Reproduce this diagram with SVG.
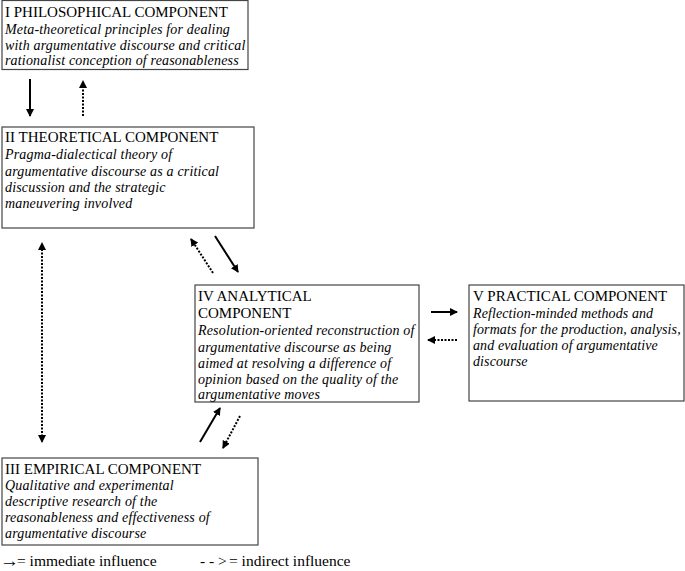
<svg xmlns="http://www.w3.org/2000/svg" width="685" height="571" viewBox="0 0 685 571">
<style>
.box{fill:#fff;stroke:#444;stroke-width:1.2}
.s{stroke:#000;stroke-width:2;fill:none}
.d{stroke:#000;stroke-width:2;fill:none;stroke-dasharray:2,1.5}
</style>
<defs>
<marker id="ah" markerWidth="8" markerHeight="8" refX="7" refY="4" orient="auto" markerUnits="userSpaceOnUse">
<path d="M0,0 L8,4 L0,8 Z" fill="#000"/>
</marker>
<marker id="ahs" markerWidth="8" markerHeight="8" refX="1" refY="4" orient="auto-start-reverse" markerUnits="userSpaceOnUse">
<path d="M0,0 L8,4 L0,8 Z" fill="#000"/>
</marker>
</defs>
<rect width="685" height="571" fill="#fff"/>
<g id="n1">
<rect class="box" x="2" y="0.5" width="246" height="69"/>
<text x="5" y="17" font-family="Liberation Serif, serif" font-size="15">I PHILOSOPHICAL COMPONENT</text>
<g font-family="Liberation Serif, serif" font-style="italic" font-size="14" letter-spacing="0.17">
<text x="5" y="34">Meta-theoretical principles for dealing</text>
<text x="5" y="50">with argumentative discourse and critical</text>
<text x="5" y="65">rationalist conception of reasonableness</text>
</g>
</g>
<g id="n2">
<rect class="box" x="2" y="127" width="252" height="101"/>
<text x="5" y="142" font-family="Liberation Serif, serif" font-size="15">II THEORETICAL COMPONENT</text>
<g font-family="Liberation Serif, serif" font-style="italic" font-size="14" letter-spacing="0.17">
<text x="5" y="159">Pragma-dialectical theory of</text>
<text x="5" y="176">argumentative discourse as a critical</text>
<text x="5" y="192">discussion and the strategic</text>
<text x="5" y="208">maneuvering involved</text>
</g>
</g>
<g id="n4">
<rect class="box" x="195" y="285" width="224" height="117"/>
<g font-family="Liberation Serif, serif" font-size="15">
<text x="198" y="301">IV ANALYTICAL</text>
<text x="198" y="318">COMPONENT</text>
</g>
<g font-family="Liberation Serif, serif" font-style="italic" font-size="14" letter-spacing="0.17">
<text x="198" y="335">Resolution-oriented reconstruction of</text>
<text x="198" y="352">argumentative discourse as being</text>
<text x="198" y="368">aimed at resolving a difference of</text>
<text x="198" y="384">opinion based on the quality of the</text>
<text x="198" y="399">argumentative moves</text>
</g>
</g>
<g id="n5">
<rect class="box" x="469" y="285" width="215" height="116"/>
<text x="473" y="301" font-family="Liberation Serif, serif" font-size="15">V PRACTICAL COMPONENT</text>
<g font-family="Liberation Serif, serif" font-style="italic" font-size="14" letter-spacing="0.1">
<text x="473" y="318">Reflection-minded methods and</text>
<text x="473" y="334">formats for the production, analysis,</text>
<text x="473" y="350">and evaluation of argumentative</text>
<text x="473" y="366">discourse</text>
</g>
</g>
<g id="n3">
<rect class="box" x="2" y="458" width="256" height="87"/>
<text x="5" y="474" font-family="Liberation Serif, serif" font-size="15">III EMPIRICAL COMPONENT</text>
<g font-family="Liberation Serif, serif" font-style="italic" font-size="14" letter-spacing="0.17">
<text x="5" y="490">Qualitative and experimental</text>
<text x="5" y="506">descriptive research of the</text>
<text x="5" y="522">reasonableness and effectiveness of</text>
<text x="5" y="538">argumentative discourse</text>
</g>
</g>
<g id="connectors">
<line class="s" x1="30" y1="79" x2="30" y2="116" marker-end="url(#ah)"/>
<line class="d" x1="83" y1="116" x2="83" y2="81" marker-end="url(#ah)"/>
<line class="d" x1="213" y1="273" x2="191" y2="239" marker-end="url(#ah)"/>
<line class="s" x1="215" y1="236" x2="238" y2="272" marker-end="url(#ah)"/>
<line class="s" x1="431" y1="312" x2="457" y2="312" marker-end="url(#ah)"/>
<line class="d" x1="457" y1="340" x2="428" y2="340" marker-end="url(#ah)"/>
<line class="d" x1="42" y1="249" x2="42" y2="442" marker-start="url(#ahs)" marker-end="url(#ah)"/>
<line class="s" x1="200" y1="442" x2="220" y2="408" marker-end="url(#ah)"/>
<line class="d" x1="240" y1="416" x2="223" y2="448" marker-end="url(#ah)"/>
</g>
<g id="legend" font-family="Liberation Serif, serif" font-size="15.5">
<text x="0" y="567" font-weight="bold" font-size="19">→</text>
<text x="17" y="566">= immediate influence</text>
<text x="200" y="566">- - &gt;</text>
<text x="229" y="566">= indirect influence</text>
</g>
</svg>
